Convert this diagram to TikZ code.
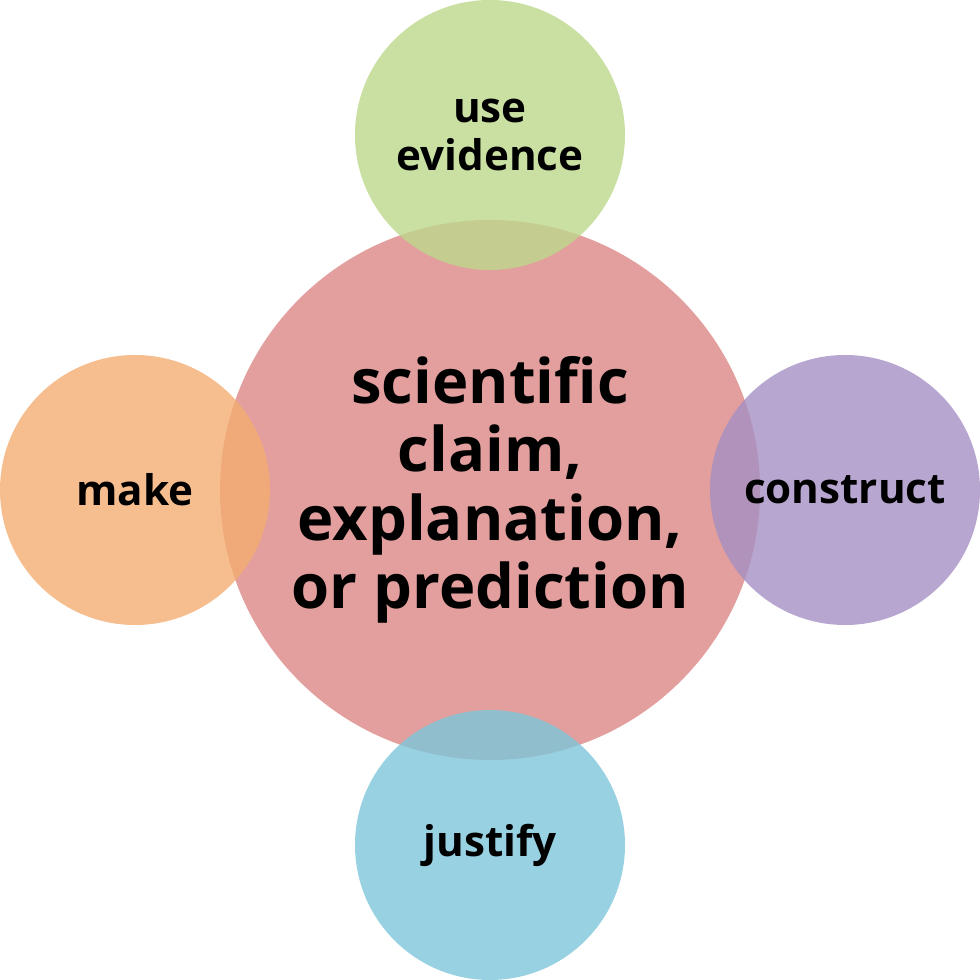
\documentclass[tikz,border=0pt]{standalone}
\usepackage{fontspec}
\setmainfont{Open Sans}
\definecolor{claimred}{HTML}{DB8784}
\definecolor{evgreen}{HTML}{BDD88C}
\definecolor{mkorange}{HTML}{F4AE72}
\definecolor{cspurple}{HTML}{A590C3}
\definecolor{jsblue}{HTML}{7EC6DA}
\begin{document}
\begin{tikzpicture}[bubble/.style={circle,fill opacity=0.8,text opacity=1,align=center,font=\bfseries\fontsize{12}{13.6}\selectfont,inner sep=0pt},
                    every node/.style={text=black}]
  \useasboundingbox (-4.9,-4.9) rectangle (4.9,4.9);
  \node[bubble,fill=claimred,minimum size=5.4cm,font=\bfseries\fontsize{17.5}{19.5}\selectfont] (claim) at (0,0) {scientific\\claim,\\explanation,\\or prediction};
  \node[bubble,fill=evgreen,minimum size=2.7cm] (use) at (0,3.55) {use\\evidence};
  \node[bubble,fill=mkorange,minimum size=2.7cm] (make) at (-3.55,0) {make};
  \node[bubble,fill=cspurple,minimum size=2.7cm] (construct) at (3.55,0) {construct};
  \node[bubble,fill=jsblue,minimum size=2.7cm] (justify) at (0,-3.55) {justify};
\end{tikzpicture}
\end{document}
